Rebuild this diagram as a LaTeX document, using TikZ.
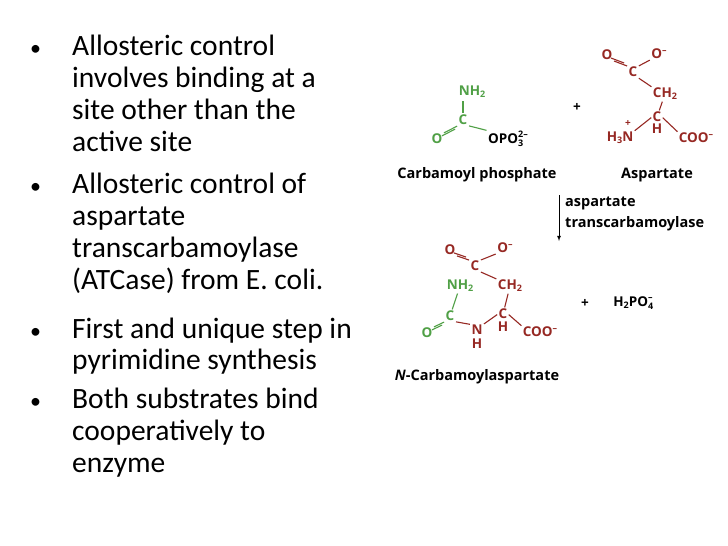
\documentclass[tikz,border=0pt]{standalone}
\usepackage{fontspec}
\setmainfont{Carlito}
\newfontfamily\chemf{Open Sans}
\newcommand{\chs}[1]{\raisebox{-0.3ex}{\fontsize{9}{10}\selectfont #1}}
\newcommand{\chp}[1]{\raisebox{0.7ex}{\fontsize{9}{10}\selectfont #1}}
\newcommand{\chsp}[2]{\rlap{\raisebox{-0.4ex}{\fontsize{9}{10}\selectfont #1}}\raisebox{0.8ex}{\fontsize{9}{10}\selectfont #2}}
\begin{document}
\begin{tikzpicture}[x=1pt,y=-1pt,
  bl/.style={anchor=base west,inner sep=0,font=\fontsize{29.5}{32}\selectfont},
  bu/.style={anchor=base west,inner sep=0,font=\fontsize{22}{24}\selectfont},
  ch/.style={inner sep=0.5pt,font=\chemf\bfseries\fontsize{13.5}{15}\selectfont},
  g/.style={ch,text=cgreen},
  r/.style={ch,text=cred},
  k/.style={ch,text=black},
  lab/.style={inner sep=0,font=\chemf\bfseries\fontsize{14.5}{16}\selectfont},
  bd/.style={line width=1.1pt,shorten >=1pt,shorten <=1pt},
  gb/.style={bd,draw=cgreen},
  rb/.style={bd,draw=cred}]
\definecolor{cgreen}{RGB}{80,160,70}
\definecolor{cred}{RGB}{150,40,35}
\fill[white] (0,0) rectangle (728,546);
% bullets
\foreach \n/\y/\t in {a1/55/{Allosteric control},a2/87/{involves binding at  a},a3/119/{site other than the},a4/151/{active site},
 b1/193/{Allosteric control of},b2/225/{aspartate},b3/257/{transcarbamoylase},b4/289/{(ATCase) from E. coli.},
 c1/338/{First and unique step in},c2/369/{pyrimidine  synthesis},
 d1/408/{Both substrates bind},d2/440/{cooperatively to},d3/472/{enzyme}}
  \node[bl] (\n) at (72,\y) {\t};
\foreach \n/\y in {ba/55,bb/193,bc/338,bd/408}
  \node[bu] (\n) at (30,\y) {•};
% carbamoyl phosphate
\node[g] (cn) at (472,92) {NH\chs{2}};
\node[g] (cc) at (463,120) {C};
\node[g] (co) at (437,139) {O};
\node[k] (cp) at (508,139) {OPO\chsp{3}{2–}};
\draw[gb] (cc.north) ++(0,-14) -- (cc.north);
\draw[gb] (cc.south west) -- (co.north east);
\draw[gb] ([xshift=-2pt,yshift=-3pt]cc.south west) -- ([xshift=-2pt,yshift=-3pt]co.north east);
\draw[gb] (cc.south east) -- (cp.north west);
\node[lab] (lcp) at (477,175) {Carbamoyl phosphate};
\node[k] (plus1) at (577,107) {+};
% aspartate
\node[r] (ao) at (607,55) {O};
\node[r] (aom) at (659,54) {O\chp{–}};
\node[r] (ac) at (633,72) {C};
\node[r] (ach) at (665,94) {CH\chs{2}};
\node[r] (aca) at (657,117) {C};
\node[r] (ah) at (657,129) {H};
\node[r] (an) at (620,138) {H\chs{3}N};
\node[r,font=\chemf\bfseries\fontsize{10}{11}\selectfont] (anp) at (628,124) {+};
\node[r] (acoo) at (696,138) {COO\chp{–}};
\draw[rb] (ao.south east) -- (ac.north west);
\draw[rb] ([xshift=-3pt,yshift=3pt]ao.south east) -- ([xshift=-3pt,yshift=3pt]ac.north west);
\draw[rb] (ac.north east) -- (aom.south west);
\draw[rb] (ac.south east) -- (ach.north west);
\draw[rb] (ach) -- (aca);
\draw[rb] (aca.west) -- (an.north east);
\draw[rb] (aca.east) -- (acoo.north west);
\node[lab] (lasp) at (657,175) {Aspartate};
% arrow
\coordinate (ar1) at (559,195);
\coordinate (ar2) at (559,241);
\draw[line width=0.8pt,-latex] (ar1) -- (ar2);
\node[lab,anchor=west] (enz1) at (565,203) {aspartate};
\node[lab,anchor=west] (enz2) at (565,224) {transcarbamoylase};
% product
\node[r] (po) at (450,250) {O};
\node[r] (pom) at (505,248) {O\chp{–}};
\node[r] (pc) at (475,266) {C};
\node[r] (pch) at (510,286) {CH\chs{2}};
\node[g] (pnh) at (460,286) {NH\chs{2}};
\node[g] (pcg) at (450,316) {C};
\node[g] (pog) at (427,333) {O};
\node[r] (pn) at (477,330) {N};
\node[r] (pnhh) at (477,344) {H};
\node[r] (pcr) at (503,314) {C};
\node[r] (pch2) at (503,327) {H};
\node[r] (pcoo) at (540,332) {COO\chp{–}};
\draw[rb] (po.south east) -- (pc.north west);
\draw[rb] ([xshift=-3pt,yshift=3pt]po.south east) -- ([xshift=-3pt,yshift=3pt]pc.north west);
\draw[rb] (pc.north east) -- (pom.south west);
\draw[rb] (pc.south east) -- (pch.north west);
\draw[rb] (pch) -- (pcr);
\draw[gb] (pnh) -- (pcg);
\draw[gb] (pcg.south west) -- (pog.north east);
\draw[gb] ([xshift=-2pt,yshift=-3pt]pcg.south west) -- ([xshift=-2pt,yshift=-3pt]pog.north east);
\draw[rb] (pcg.south east) -- (pn.north west);
\draw[rb] (pn.north east) -- (pcr.west);
\draw[rb] (pcr.east) -- (pcoo.north west);
\node[k] (plus2) at (585,303) {+};
\node[k] (hpo) at (633,303) {H\chs{2}PO\chsp{4}{–}};
\node[lab] (lprod) at (477,377) {\textit{N}-Carbamoylaspartate};
\end{tikzpicture}
\end{document}
